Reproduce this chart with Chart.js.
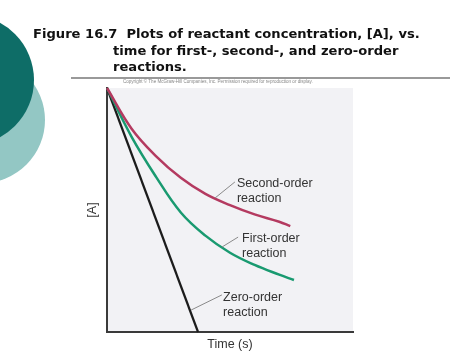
<!DOCTYPE html>
<html>
<head>
<meta charset="utf-8">
<script src="https://cdn.jsdelivr.net/npm/chart.js@4"></script>
<style>
  html, body { margin: 0; padding: 0; background: #fff; }
  #wrap { width: 474px; height: 355px; }
</style>
</head>
<body>
<div id="wrap"><canvas id="myChart"></canvas></div>
<script>
// Time axis (arbitrary units) and [A]
var timeSecond = [0, 1, 2, 3, 4, 5, 6, 7, 7.45];
var concSecond = [1, 0.833, 0.72, 0.632, 0.566, 0.52, 0.482, 0.452, 0.434];
var timeFirst = [0, 1, 2, 3, 4, 5, 6, 7, 7.6];
var concFirst = [1, 0.8, 0.635, 0.49, 0.395, 0.325, 0.275, 0.235, 0.213];
var timeZero = [0, 3.7];
var concZero = [1, 0];

var seriesNames = ["Second-order reaction", "First-order reaction", "Zero-order reaction"];
var titleLines = [
  "Figure 16.7  Plots of reactant concentration, [A], vs.",
  "time for first-, second-, and zero-order",
  "reactions."
];

function toPoints(xs, ys) {
  return xs.map(function (x, i) { return { x: x, y: ys[i] }; });
}

// labels next to the curves: [text lines, label x, label y, leader from x,y, leader to x,y] in data units
var notes = [
  [["Second-order", "reaction"], 5.28, 0.61, 4.39, 0.549, 5.2, 0.615],
  [["First-order", "reaction"], 5.49, 0.385, 4.67, 0.348, 5.33, 0.389],
  [["Zero-order", "reaction"], 4.72, 0.143, 3.42, 0.09, 4.67, 0.152]
];

var decor = {
  id: "decor",
  beforeDraw: function (chart) {
    var c = chart.ctx, a = chart.chartArea;
    c.save();
    // slide circles on the left
    c.fillStyle = "#93c7c4";
    c.beginPath(); c.arc(-18, 120, 63, 0, Math.PI * 2); c.fill();
    c.fillStyle = "#0e6d67";
    c.beginPath(); c.arc(-31, 80, 65, 0, Math.PI * 2); c.fill();

    // title
    c.fillStyle = "#111";
    c.font = "bold 13.1px 'DejaVu Sans'";
    c.textBaseline = "alphabetic";
    c.fillText(titleLines[0], 33, 38);
    c.fillText(titleLines[1], 113, 55);
    c.fillText(titleLines[2], 113, 71);

    // rule
    c.strokeStyle = "#777";
    c.lineWidth = 1.5;
    c.beginPath(); c.moveTo(71, 78); c.lineTo(450, 78); c.stroke();

    // copyright line
    var cp = "Copyright \u00a9 The McGraw-Hill Companies, Inc. Permission required for reproduction or display.";
    c.font = "4px 'Liberation Sans'";
    var w = c.measureText(cp).width;
    c.font = (4 * 190 / w).toFixed(2) + "px 'Liberation Sans'";
    c.fillStyle = "#888";
    c.textBaseline = "middle";
    c.fillText(cp, 123, 82);

    // plot background
    c.fillStyle = "#f2f2f5";
    c.fillRect(a.left, a.top, a.right - a.left, a.bottom - a.top);
    c.restore();
  },
  afterDraw: function (chart) {
    var c = chart.ctx, a = chart.chartArea;
    var xs = chart.scales.x, ys = chart.scales.y;
    c.save();
    c.fillStyle = "#333";
    c.font = "12.5px 'Liberation Sans'";
    c.textBaseline = "middle";
    c.textAlign = "center";
    c.fillText("Time (s)", (a.left + a.right) / 2, 345);
    c.save();
    c.translate(93, (a.top + a.bottom) / 2);
    c.rotate(-Math.PI / 2);
    c.fillText("[A]", 0, 0);
    c.restore();

    c.textAlign = "left";
    notes.forEach(function (n) {
      c.strokeStyle = "#8a8a8a";
      c.lineWidth = 1;
      c.beginPath();
      c.moveTo(xs.getPixelForValue(n[3]), ys.getPixelForValue(n[4]));
      c.lineTo(xs.getPixelForValue(n[5]), ys.getPixelForValue(n[6]));
      c.stroke();
      var lx = xs.getPixelForValue(n[1]), ly = ys.getPixelForValue(n[2]);
      c.fillStyle = "#333";
      c.fillText(n[0][0], lx, ly);
      c.fillText(n[0][1], lx, ly + 15);
    });
    c.restore();
  }
};

var ctx = document.getElementById("myChart");
var myChart = new Chart(ctx, {
  type: "line",
  data: {
    datasets: [
      {
        label: seriesNames[0],
        data: toPoints(timeSecond, concSecond),
        borderColor: "#b43a60",
        borderWidth: 2.5,
        tension: 0.4,
        pointRadius: 0,
        clip: false,
        fill: false
      },
      {
        label: seriesNames[1],
        data: toPoints(timeFirst, concFirst),
        borderColor: "#199a70",
        borderWidth: 2.5,
        tension: 0.4,
        pointRadius: 0,
        clip: false,
        fill: false
      },
      {
        label: seriesNames[2],
        data: toPoints(timeZero, concZero),
        borderColor: "#1c1c1c",
        borderWidth: 2.2,
        pointRadius: 0,
        clip: false,
        fill: false
      }
    ]
  },
  options: {
    responsive: true,
    maintainAspectRatio: false,
    animation: false,
    layout: { padding: { left: 99, right: 121, top: 88, bottom: 15 } },
    plugins: {
      legend: { display: false },
      tooltip: { enabled: false },
      title: { display: false }
    },
    scales: {
      x: {
        type: "linear",
        min: 0,
        max: 10,
        ticks: { display: false },
        grid: { display: false },
        border: { display: true, color: "#3a3a3a", width: 2 }
      },
      y: {
        min: 0,
        max: 1,
        ticks: { display: false },
        grid: { display: false },
        border: { display: true, color: "#3a3a3a", width: 2 }
      }
    }
  },
  plugins: [decor]
});
</script>
</body>
</html>
